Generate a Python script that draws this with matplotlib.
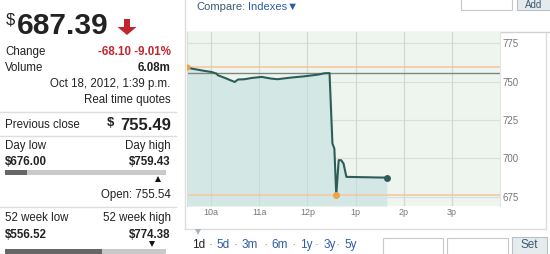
import numpy as np
import matplotlib
matplotlib.use('Agg')
from matplotlib import pyplot as plt
from matplotlib.patches import Rectangle, FancyArrow

plt.rcParams['font.family'] = ['Liberation Sans', 'DejaVu Sans']

# quote data
last = 687.39
change = '-68.10 -9.01%'
volume = '6.08m'
stamp = 'Oct 18, 2012, 1:39 p.m.'
prev_close = 755.49
day_low, day_high = 676.00, 759.43
open_px = 755.54
wk_low, wk_high = 556.52, 774.38

# intraday series (hours, price)
times = [9.50, 9.60, 9.87, 10.01, 10.11, 10.14, 10.29, 10.49, 10.56, 10.70,
         10.84, 11.05, 11.25, 11.38, 11.67, 11.94, 12.22, 12.36, 12.46, 12.52,
         12.56, 12.60, 12.65, 12.70, 12.75, 12.81, 13.65]
prices = [759.43, 758.5, 757.0, 756.3, 755.3, 754.2, 752.4, 749.8, 751.4, 751.6,
          752.4, 753.1, 752.0, 751.6, 752.7, 753.5, 754.6, 755.5, 755.6, 709.7,
          706.4, 676.0, 698.8, 698.8, 696.7, 687.9, 687.39]
hour_ticks = [10, 11, 12, 13, 14, 15]
hour_labels = ['10a', '11a', '12p', '1p', '2p', '3p']
price_ticks = [675, 700, 725, 750, 775]
periods = ['1d', '5d', '3m', '6m', '1y', '3y', '5y']

W, H = 550, 254
fig = plt.figure(figsize=(W / 100, H / 100), dpi=100)
fig.patch.set_facecolor('white')

# overlay in pixel coords for the widget parts
ui = fig.add_axes([0, 0, 1, 1], zorder=0)
ui.set_xlim(0, W)
ui.set_ylim(H, 0)
ui.axis('off')

dark = '#222222'
red = '#c0272d'
blue = '#2b5ca6'
line_c = '#dddddd'

# ---- left panel ----
ui.text(6, 12, '$', fontsize=12, color=dark, va='top', ha='left')
ui.text(17, 34, '%.2f' % last, fontsize=21.5, fontweight='bold', color=dark,
        va='baseline', ha='left')
ui.add_patch(FancyArrow(127, 19, 0, 16, width=6, head_width=19, head_length=8,
                        length_includes_head=True, color=red, lw=0))

R = 170.7
fs = 8.3
ui.text(5, 52, 'Change', fontsize=fs, color=dark, va='center')
ui.text(R, 52, change, fontsize=fs, color=red, fontweight='bold', va='center', ha='right')
ui.text(5, 68, 'Volume', fontsize=fs, color=dark, va='center')
ui.text(R, 68, volume, fontsize=fs, color=dark, fontweight='bold', va='center', ha='right')
ui.text(R, 84.5, stamp, fontsize=fs, color=dark, va='center', ha='right')
ui.text(R, 100, 'Real time quotes', fontsize=fs, color=dark, va='center', ha='right')
for y in [111.5, 135.5, 206.5]:
    ui.plot([0, 176], [y, y], color=line_c, lw=1)

ui.text(5, 124.5, 'Previous close', fontsize=fs, color=dark, va='center')
ui.text(R, 125, '%.2f' % prev_close, fontsize=12, fontweight='bold', color=dark,
        va='center', ha='right')
ui.text(107, 123.5, '$', fontsize=9.5, fontweight='bold', color=dark, va='center')

ui.text(5, 146.5, 'Day low', fontsize=fs, color=dark, va='center')
ui.text(R, 146.5, 'Day high', fontsize=fs, color=dark, va='center', ha='right')
ui.text(5, 162, '$%.2f' % day_low, fontsize=fs, fontweight='bold', color=dark, va='center')
ui.text(R, 162, '$%.2f' % day_high, fontsize=fs, fontweight='bold', color=dark,
        va='center', ha='right')

bx0, bx1 = 5, 165.7
bw = bx1 - bx0
f = (last - day_low) / (day_high - day_low)
ui.add_patch(Rectangle((bx0, 170), bw, 5, color='#c9c9c9', lw=0))
ui.add_patch(Rectangle((bx0, 170), bw * f, 5, color='#666666', lw=0))
fo = (open_px - day_low) / (day_high - day_low)
ui.plot([bx0 + bw * fo], [178.5], marker='^', ms=5, color='#111111', mew=0)
ui.text(R, 195, 'Open: %.2f' % open_px, fontsize=fs, color=dark, va='center', ha='right')

ui.text(5, 218, '52 week low', fontsize=fs, color=dark, va='center')
ui.text(R, 218, '52 week high', fontsize=fs, color=dark, va='center', ha='right')
ui.text(5, 234.5, '$%.2f' % wk_low, fontsize=fs, fontweight='bold', color=dark, va='center')
ui.text(R, 234.5, '$%.2f' % wk_high, fontsize=fs, fontweight='bold', color=dark,
        va='center', ha='right')
fw = (last - wk_low) / (wk_high - wk_low)
ui.add_patch(Rectangle((bx0, 248.5), bw, 6, color='#c9c9c9', lw=0))
ui.add_patch(Rectangle((bx0, 248.5), bw * fw, 6, color='#666666', lw=0))
fp = (prev_close - wk_low) / (wk_high - wk_low)
ui.plot([bx0 + bw * fp], [244], marker='v', ms=5, color='#111111', mew=0)

# ---- chart frame and controls ----
ui.plot([185, 185], [0, 229], color=line_c, lw=1)
ui.plot([185, 546, 546], [229, 229, 32], color=line_c, lw=1)
ui.plot([187, 550], [32, 32], color='#d0d0d0', lw=1)

ui.text(196, 6.5, 'Compare:', fontsize=8, color='#3d5874', va='center')
ui.text(248, 6.5, 'Indexes\u25BC', fontsize=8, color=blue, va='center')
ui.add_patch(Rectangle((460.5, -2), 51, 12, fc='white', ec='#c8c8c8', lw=0.8))
ui.add_patch(Rectangle((517, -2), 35, 12, fc='#e4eaee', ec='#b8c0c8', lw=0.8))
ui.text(534, 4.5, 'Add', fontsize=7, color='#3d5874', va='center', ha='center')

ui.plot([198.3], [232], marker='v', ms=4.5, color='#a8b4c0', mew=0)
xs = [192.3, 216.7, 241.7, 271.7, 300, 323.3, 344.3]
for i, (p, x) in enumerate(zip(periods, xs)):
    ui.text(x, 245, p, fontsize=8.5, color=dark if i == 0 else blue, va='center')
    if i > 0:
        ui.text(x - 6.3, 245, '\u00b7', fontsize=9, color='#888888',
                va='center', ha='center')

ui.add_patch(Rectangle((382.7, 238.3), 60.6, 20, fc='white', ec='#c8c8c8', lw=0.8))
ui.add_patch(Rectangle((447.3, 238.3), 60.4, 20, fc='white', ec='#c8c8c8', lw=0.8))
ui.add_patch(Rectangle((511.7, 236.7), 35, 20, fc='#e6ebee', ec='#b8c0c8', lw=0.8))
ui.text(529.3, 245, 'Set', fontsize=8.5, color='#3d5874', va='center', ha='center')

# ---- price chart ----
ax = fig.add_axes([187 / W, (H - 206) / H, 313 / W, 174 / H], zorder=1)
ax.set_facecolor('#eef5ef')
ax.set_xlim(9.5, 16.0)
ax.set_ylim(668.9, 782.4)
for h in hour_ticks:
    ax.axvline(h, color='#d6e0d9', lw=0.8, zorder=1)
for p in price_ticks:
    ax.axhline(p, color='#d6e0d9', lw=0.8, zorder=1)
ax.fill_between(times, prices, 668.9, color='#d3e8e4', lw=0, zorder=1.5)
for h in hour_ticks:
    ax.axvline(h, color='#c9dbd6', lw=0.8, zorder=1.6, ymax=1)
ax.axhline(day_high, color='#f3c9a2', lw=1.2, zorder=2)
ax.axhline(day_low, color='#f3c9a2', lw=1.2, zorder=2)
ax.axhline(prev_close, color='#7c8886', lw=1, zorder=2)
ax.plot(times, prices, color='#2d5d58', lw=1.5, zorder=3)
ax.plot([times[0]], [day_high], 'o', ms=4.5, color='#eea24a', zorder=4, mew=0)
lo_i = int(np.argmin(prices))
ax.plot([times[lo_i]], [prices[lo_i]], 'o', ms=5, color='#eea24a', zorder=4, mew=0)
ax.plot([times[-1]], [prices[-1]], 'o', ms=5, color='#2d5d58', zorder=4, mew=0)

ax.yaxis.tick_right()
ax.set_yticks(price_ticks)
ax.set_yticklabels([str(p) for p in price_ticks])
ax.set_xticks(hour_ticks)
ax.set_xticklabels(hour_labels)
ax.tick_params(axis='y', length=0, pad=2, labelsize=7, labelcolor='#777777')
ax.tick_params(axis='x', length=0, pad=1.5, labelsize=6.5, labelcolor='#777777')
for s in ['top', 'bottom']:
    ax.spines[s].set_visible(False)
ax.spines['left'].set_color('#d8dedb')
ax.spines['right'].set_color('#e2e6e4')

fig.savefig('out.png', dpi=100)
